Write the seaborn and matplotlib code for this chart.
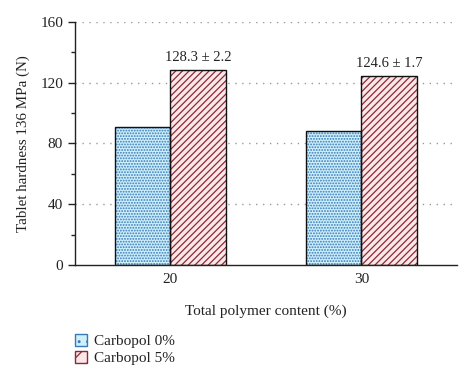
import matplotlib
matplotlib.use("Agg")
import matplotlib.pyplot as plt
import seaborn as sns
import pandas as pd
from matplotlib.patches import Patch

categories = ["20", "30"]
series_names = ["Carbopol 0%", "Carbopol 5%"]
carbopol0 = [91.0, 88.0]
carbopol5 = [128.3, 124.6]
labels5 = ["128.3 ± 2.2", "124.6 ± 1.7"]
yticks = [0, 40, 80, 120, 160]

sns.set_theme(style="white")
plt.rcParams["font.family"] = ["Liberation Serif", "DejaVu Serif"]
plt.rcParams["hatch.linewidth"] = 0.9

df = pd.DataFrame({
    "content": categories * 2,
    "series": [series_names[0]] * 2 + [series_names[1]] * 2,
    "value": carbopol0 + carbopol5,
})

fig = plt.figure(figsize=(4.74, 3.84), dpi=100)
ax = fig.add_axes([0.158, 0.31, 0.806, 0.633])

face = {series_names[0]: "#cdf0fb", series_names[1]: "#fbe6e8"}
hatchc = {series_names[0]: "#3a78b8", series_names[1]: "#8a2a35"}
hatches = {series_names[0]: "......", series_names[1]: "/////"}

sns.barplot(data=df, x="content", y="value", hue="series", order=categories,
            hue_order=series_names, width=0.58, ax=ax, legend=False,
            palette=face, errorbar=None)
n = len(categories)
for i, p in enumerate(ax.patches[:2 * n]):
    s = series_names[i // n]
    p.set_facecolor(face[s])
    p.set_edgecolor(hatchc[s])
    p.set_hatch(hatches[s])
    p.set_linewidth(0)

sns.barplot(data=df, x="content", y="value", hue="series", order=categories,
            hue_order=series_names, width=0.58, ax=ax, legend=False,
            fill=False, errorbar=None, palette=["black", "black"])
for p in ax.patches[2 * n:]:
    p.set_edgecolor("#111111")
    p.set_linewidth(1.0)
    p.set_facecolor("none")

# annotations over Carbopol 5% bars
for i, p in enumerate(ax.patches[n:2 * n]):
    ax.text(p.get_x() + p.get_width() / 2, p.get_height() + 4, labels5[i],
            ha="center", va="bottom", fontsize=10.5, color="#222222")

ax.set_ylim(0, 160)
ax.set_xlim(-0.5, 1.5)
ax.set_yticks(yticks)
ax.set_yticks([20, 60, 100, 140], minor=True)
for y in yticks[1:]:
    ax.axhline(y, color="#999999", linestyle=(0, (1, 4)), linewidth=1.0, zorder=0)

for side in ["top", "right"]:
    ax.spines[side].set_visible(False)
for side in ["left", "bottom"]:
    ax.spines[side].set_color("#222222")
    ax.spines[side].set_linewidth(1.0)

ax.tick_params(axis="y", which="major", direction="out", length=5, width=1,
               left=True, color="#222222", labelsize=11, labelcolor="#222222")
ax.tick_params(axis="y", which="minor", direction="out", length=3, width=1,
               left=True, color="#222222")
ax.tick_params(axis="x", bottom=False, labelsize=11, labelcolor="#222222", pad=0)

ax.set_xlabel("Total polymer content (%)", fontsize=11, color="#222222", labelpad=13)
ax.set_ylabel("Tablet hardness 136 MPa (N)", fontsize=10.8, color="#222222", labelpad=7)

handles = [Patch(facecolor=face[s], edgecolor=hatchc[s], hatch=hatches[s][:2], linewidth=1.0)
           for s in series_names]
fig.legend(handles, series_names, loc="upper left", bbox_to_anchor=(0.13, 0.165),
           frameon=False, fontsize=11, handlelength=0.75, handleheight=0.75,
           handletextpad=0.5, labelspacing=0.2, labelcolor="#222222")

fig.savefig("out.png", dpi=100)
